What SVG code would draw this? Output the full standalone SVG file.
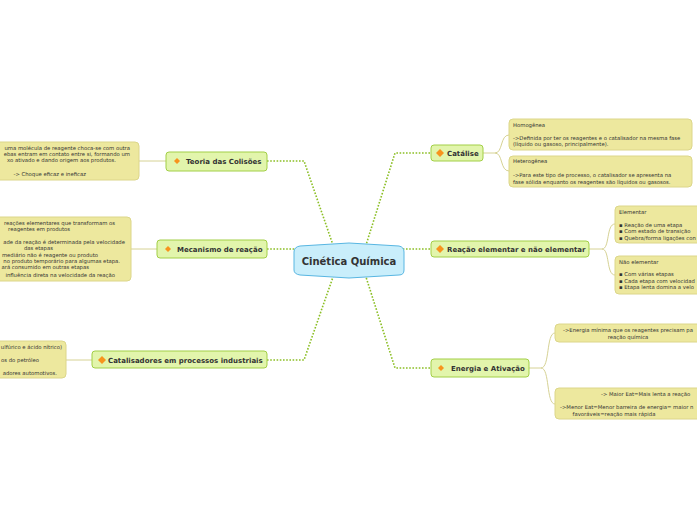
<svg xmlns="http://www.w3.org/2000/svg" width="697" height="520" viewBox="0 0 697 520">
<style>
text{font-family:"DejaVu Sans",Verdana,sans-serif;fill:#333}
.t{fill:#e2f5ac;stroke:#a2cf46;stroke-width:1}
.tt{font-size:7px;font-weight:bold}
.n{fill:#ede89e;stroke:#dcd68a;stroke-width:1}
.nt{font-size:5.3px}
.c{fill:none;stroke:#8cbf26;stroke-width:1.6;stroke-dasharray:1.6 1.6}
.nc{fill:none;stroke:#d6d294;stroke-width:1}
.ic{fill:#f7941d}
</style>
<rect width="697" height="520" fill="#fff"/>
<g id="connectors">
<path class="c" d="M267,161 H304 L333,245"/>
<path class="c" d="M267,249 H304 L333,250"/>
<path class="c" d="M267,360 H304 L333,277"/>
<path class="c" d="M430,153 H395 L366,245"/>
<path class="c" d="M430,249 H395 L366,250"/>
<path class="c" d="M430,368 H395 L366,277"/>
<path class="nc" d="M166,161 H139"/>
<path class="nc" d="M157,249 H131"/>
<path class="nc" d="M92,360 H66"/>
<path class="nc" d="M483,153 H495 C503,153 500,135 509,135 M495,153 C503,153 500,171 509,171"/>
<path class="nc" d="M589,249 H602 C610,249 606,224 615,224 M602,249 C610,249 606,275 615,275"/>
<path class="nc" d="M529,368 H541 C550,368 546,333 555,333 M541,368 C550,368 546,404 555,404"/>
</g>
<g id="center">
<path d="M300,246 L349,243 L399,246 Q404,247 404,252 L404,270 Q404,275 399,275 L349,278 L300,275 Q294,274 294,270 L294,252 Q294,247 300,246 Z" fill="#c9eefb" stroke="#58b6e2" stroke-width="1"/>
<text x="349" y="265" text-anchor="middle" style="font-size:10px;font-weight:bold">Cinética Química</text>
</g>
<g id="teoria">
<rect class="t" x="166" y="152" width="101" height="19" rx="3"/>
<path class="ic" d="M177,158 L180,161 L177,164 L174,161Z"/>
<text class="tt" x="186" y="164">Teoria das Colisões</text>
</g>
<g id="teoria-note">
<rect class="n" x="-5" y="142" width="144" height="38" rx="4"/>
<text class="nt" x="130" y="150" text-anchor="end">uma molécula de reagente choca-se com outra</text>
<text class="nt" x="130" y="156" text-anchor="end">ebas entram em contato entre si, formando um</text>
<text class="nt" x="116" y="162" text-anchor="end">xo ativado e dando origem aos produtos.</text>
<text class="nt" x="86" y="176" text-anchor="end">-&gt; Choque eficaz e ineficaz</text>
</g>
<g id="mecanismo">
<rect class="t" x="157" y="240" width="110" height="18" rx="3"/>
<path class="ic" d="M168,246 L171,249 L168,252 L165,249Z"/>
<text class="tt" x="177" y="252">Mecanismo de reação</text>
</g>
<g id="mecanismo-note">
<rect class="n" x="-5" y="217" width="136" height="64" rx="4"/>
<text class="nt" x="115" y="225" text-anchor="end">reações elementares que transformam os</text>
<text class="nt" x="70" y="231" text-anchor="end">reagentes em produtos</text>
<text class="nt" x="125" y="244" text-anchor="end">ade da reação é determinada pela velocidade</text>
<text class="nt" x="53" y="250" text-anchor="end">das etapas</text>
<text class="nt" x="98" y="257" text-anchor="end">mediário não é reagente ou produto</text>
<text class="nt" x="120" y="263" text-anchor="end">no produto temporário para algumas etapa.</text>
<text class="nt" x="89" y="269" text-anchor="end">ará consumido em outras etapas</text>
<text class="nt" x="115" y="277" text-anchor="end">influência direta na velocidade da reação</text>
</g>
<g id="catalisadores">
<rect class="t" x="92" y="351" width="175" height="17" rx="3"/>
<path class="ic" d="M102,356 L106,360 L102,364 L98,360Z"/>
<text class="tt" x="108" y="363">Catalisadores em processos industriais</text>
</g>
<g id="catalisadores-note">
<rect class="n" x="-5" y="341" width="71" height="37" rx="4"/>
<text class="nt" x="62" y="349" text-anchor="end">ulfúrico e ácido nítrico)</text>
<text class="nt" x="39" y="362" text-anchor="end">os do petróleo</text>
<text class="nt" x="57" y="375" text-anchor="end">adores automotivos.</text>
</g>
<g id="catalise">
<rect class="t" x="431" y="145" width="52" height="16" rx="3"/>
<path class="ic" d="M440,149 L444,153 L440,157 L436,153Z"/>
<text class="tt" x="447" y="156">Catálise</text>
</g>
<g id="catalise-notes">
<rect class="n" x="509" y="119" width="183" height="31" rx="4"/>
<text class="nt" x="513" y="127">Homogênea</text>
<text class="nt" x="513" y="140">-&gt;Definida por ter os reagentes e o catalisador na mesma fase</text>
<text class="nt" x="513" y="146">(líquido ou gasoso, principalmente).</text>
<rect class="n" x="509" y="156" width="183" height="31" rx="4"/>
<text class="nt" x="513" y="163">Heterogênea</text>
<text class="nt" x="513" y="177">-&gt;Para este tipo de processo, o catalisador se apresenta na</text>
<text class="nt" x="513" y="184">fase sólida enquanto os reagentes são líquidos ou gasosos.</text>
</g>
<g id="reacao">
<rect class="t" x="431" y="241" width="158" height="16" rx="3"/>
<path class="ic" d="M440,245 L444,249 L440,253 L436,249Z"/>
<text class="tt" x="447" y="252">Reação elementar e não elementar</text>
</g>
<g id="reacao-notes">
<rect class="n" x="615" y="206" width="90" height="37" rx="4"/>
<text class="nt" x="619" y="214">Elementar</text>
<text class="nt" x="619" y="227">▪ Reação de uma etapa</text>
<text class="nt" x="619" y="233">▪ Com estado de transição</text>
<text class="nt" x="619" y="240">▪ Quebra/forma ligações con</text>
<rect class="n" x="615" y="256" width="90" height="38" rx="4"/>
<text class="nt" x="619" y="264">Não elementar</text>
<text class="nt" x="619" y="276">▪ Com várias etapas</text>
<text class="nt" x="619" y="283">▪ Cada etapa com velocidad</text>
<text class="nt" x="619" y="289">▪ Etapa lenta domina a velo</text>
</g>
<g id="energia">
<rect class="t" x="431" y="359" width="98" height="18" rx="3"/>
<path class="ic" d="M441,365 L444,368 L441,371 L438,368Z"/>
<text class="tt" x="451" y="371">Energia e Ativação</text>
</g>
<g id="energia-notes">
<rect class="n" x="555" y="324" width="150" height="18" rx="4"/>
<text class="nt" x="563" y="332">-&gt;Energia mínima que os reagentes precisam pa</text>
<text class="nt" x="628" y="339" text-anchor="middle">reação química</text>
<rect class="n" x="555" y="388" width="150" height="31" rx="4"/>
<text class="nt" x="601" y="396">-&gt; Maior Eat=Mais lenta a reação</text>
<text class="nt" x="560" y="409">-&gt;Menor Eat=Menor barreira de energia= maior n</text>
<text class="nt" x="614" y="416" text-anchor="middle">favoráveis=reação mais rápida</text>
</g>
</svg>
